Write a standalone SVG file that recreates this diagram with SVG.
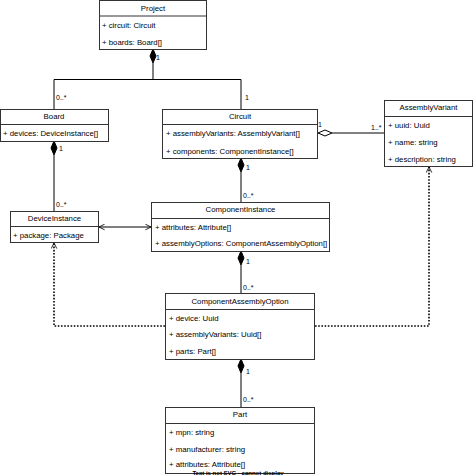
<svg xmlns="http://www.w3.org/2000/svg" width="474" height="475" viewBox="0 0 474 475">
<defs>
<marker id="open" viewBox="0 0 10 10" refX="9" refY="5" markerWidth="7" markerHeight="7" markerUnits="userSpaceOnUse" orient="auto-start-reverse">
<path d="M1,1 L9,5 L1,9" fill="none" stroke="#000" stroke-width="1.2"/>
</marker>
</defs>
<style>
.box{fill:#fff;stroke:#333;stroke-width:1}
.hd{stroke:#333;stroke-width:1}
text{font-family:"Liberation Sans",Arial,sans-serif;font-size:7.8px;fill:#000}
.t{text-anchor:middle}
.lbl{font-size:7px}
.ln{fill:none;stroke:#000;stroke-width:1}
.dot{fill:none;stroke:#000;stroke-width:1.6;stroke-dasharray:1.6 1.6}
.fd{fill:#000;stroke:#000;stroke-width:1}
.hdm{fill:#fff;stroke:#000;stroke-width:1}
</style>
<g id="connectors">
<path class="ln" d="M153,63 V79.5 H54 V109 M153,79.5 H241 V109"/>
<path class="fd" d="M153,49 L156,56 L153,63 L150,56 Z"/>
<path class="ln" d="M54,155 V211"/>
<path class="fd" d="M54,141 L57,148 L54,155 L51,148 Z"/>
<path class="ln" d="M241,172 V202"/>
<path class="fd" d="M241,158 L244,165 L241,172 L238,165 Z"/>
<path class="ln" d="M332,133 H384"/>
<path class="hdm" d="M318,133 L325,130 L332,133 L325,136 Z"/>
<path class="ln" d="M241,265 V293"/>
<path class="fd" d="M241,251 L244,258 L241,265 L238,258 Z"/>
<path class="ln" d="M241,373 V407"/>
<path class="fd" d="M241,359 L244,366 L241,373 L238,366 Z"/>
<path class="ln" d="M99,227 H151" marker-start="url(#open)" marker-end="url(#open)"/>
<path class="dot" d="M165,326 H54 V243" marker-end="url(#open)"/>
<path class="dot" d="M315,326 H429 V167" marker-end="url(#open)"/>
<text class="lbl" x="156" y="60">1</text>
<text class="lbl" x="56" y="100">0..*</text>
<text class="lbl" x="245" y="100">1</text>
<text class="lbl" x="59" y="151">1</text>
<text class="lbl" x="56" y="207">0..*</text>
<text class="lbl" x="246" y="170">1</text>
<text class="lbl" x="243" y="198">0..*</text>
<text class="lbl" x="318" y="127">1</text>
<text class="lbl" x="371" y="130">1..*</text>
<text class="lbl" x="246" y="264">1</text>
<text class="lbl" x="243" y="290">0..*</text>
<text class="lbl" x="246" y="374">1</text>
<text class="lbl" x="243" y="402">0..*</text>
</g>
<g id="Project">
<rect class="box" x="99.5" y="0.5" width="107" height="49"/>
<line class="hd" x1="99.5" y1="16" x2="206.5" y2="16"/>
<text class="t" x="153" y="11">Project</text>
<text x="102" y="27.5">+ circuit: Circuit</text>
<text x="102" y="45">+ boards: Board[]</text>
</g>
<g id="Board">
<rect class="box" x="0.5" y="109.5" width="108" height="32"/>
<line class="hd" x1="0.5" y1="124.5" x2="108.5" y2="124.5"/>
<text class="t" x="54" y="119">Board</text>
<text x="3" y="135.5">+ devices: DeviceInstance[]</text>
</g>
<g id="Circuit">
<rect class="box" x="162.5" y="109.5" width="155" height="49"/>
<line class="hd" x1="162.5" y1="124.5" x2="317.5" y2="124.5"/>
<text class="t" x="240" y="119">Circuit</text>
<text x="166" y="135.5">+ assemblyVariants: AssemblyVariant[]</text>
<text x="166" y="153.5">+ components: ComponentInstance[]</text>
</g>
<g id="AssemblyVariant">
<rect class="box" x="384.5" y="100.5" width="88" height="66"/>
<line class="hd" x1="384.5" y1="116.5" x2="472.5" y2="116.5"/>
<text class="t" x="428.5" y="110">AssemblyVariant</text>
<text x="388" y="127.5">+ uuid: Uuid</text>
<text x="388" y="144.5">+ name: string</text>
<text x="388" y="161.5">+ description: string</text>
</g>
<g id="DeviceInstance">
<rect class="box" x="10.5" y="211.5" width="88" height="31"/>
<line class="hd" x1="10.5" y1="226.5" x2="98.5" y2="226.5"/>
<text class="t" x="54.5" y="220.5">DeviceInstance</text>
<text x="13" y="237.5">+ package: Package</text>
</g>
<g id="ComponentInstance">
<rect class="box" x="151.5" y="202.5" width="178" height="49"/>
<line class="hd" x1="151.5" y1="218.5" x2="329.5" y2="218.5"/>
<text class="t" x="240.5" y="212">ComponentInstance</text>
<text x="155" y="229.5">+ attributes: Attribute[]</text>
<text x="155" y="246">+ assemblyOptions: ComponentAssemblyOption[]</text>
</g>
<g id="ComponentAssemblyOption">
<rect class="box" x="165.5" y="293.5" width="149" height="66"/>
<line class="hd" x1="165.5" y1="309.5" x2="314.5" y2="309.5"/>
<text class="t" x="240" y="303.5">ComponentAssemblyOption</text>
<text x="169" y="320.5">+ device: Uuid</text>
<text x="169" y="337">+ assemblyVariants: Uuid[]</text>
<text x="169" y="354">+ parts: Part[]</text>
</g>
<g id="Part">
<rect class="box" x="165.5" y="407.5" width="149" height="66"/>
<line class="hd" x1="165.5" y1="423.5" x2="314.5" y2="423.5"/>
<text class="t" x="240" y="417">Part</text>
<text x="169" y="435">+ mpn: string</text>
<text x="169" y="452">+ manufacturer: string</text>
<text x="169" y="467">+ attributes: Attribute[]</text>
<text class="t" x="238" y="474.6" style="font-size:6px;font-weight:bold">Text is not SVG - cannot display</text>
</g>
</svg>
